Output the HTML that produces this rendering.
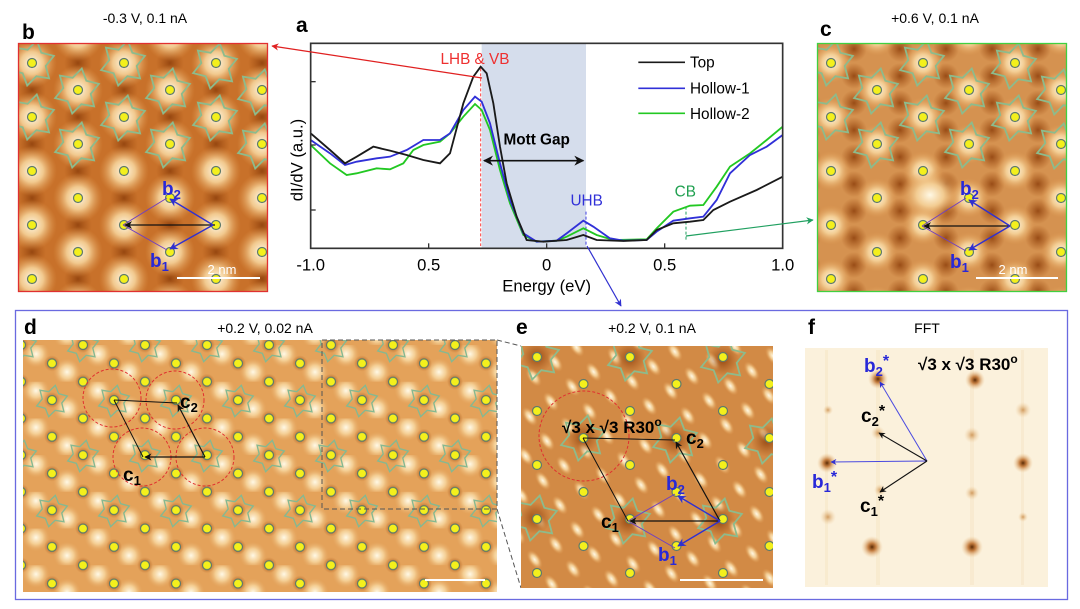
<!DOCTYPE html>
<html><head><meta charset="utf-8"><style>
html,body{margin:0;padding:0;background:#fff;}
svg{display:block;font-family:"Liberation Sans",Arial,sans-serif;}
</style></head><body>
<svg width="1080" height="609" viewBox="0 0 1080 609" xmlns="http://www.w3.org/2000/svg">
<defs>
<radialGradient id="lb"><stop offset="0" stop-color="#fff9e6"/><stop offset="0.45" stop-color="#f6d39a" stop-opacity="0.9"/><stop offset="1" stop-color="#e09a50" stop-opacity="0"/></radialGradient>
<radialGradient id="dk"><stop offset="0" stop-color="#8e400c" stop-opacity="0.85"/><stop offset="1" stop-color="#a04d12" stop-opacity="0"/></radialGradient>
<radialGradient id="fs"><stop offset="0" stop-color="#5a2a05"/><stop offset="0.35" stop-color="#b7621c" stop-opacity="0.8"/><stop offset="1" stop-color="#f0c890" stop-opacity="0"/></radialGradient>
<radialGradient id="fs2"><stop offset="0" stop-color="#c07a30" stop-opacity="0.7"/><stop offset="1" stop-color="#f0c890" stop-opacity="0"/></radialGradient>
<symbol id="dot" overflow="visible"><circle r="4.5" fill="#f4f01c" stroke="#5f7a6a" stroke-width="1.2"/></symbol>
<symbol id="starL" overflow="visible"><polygon transform="rotate(12)" fill="none" stroke="#8dbb8c" stroke-width="1.8" points="0,-23 7,-12 19.9,-11.5 14,0 19.9,11.5 7,12 0,23 -7,12 -19.9,11.5 -14,0 -19.9,-11.5 -7,-12"/></symbol>
<symbol id="starS" overflow="visible"><polygon transform="rotate(12)" fill="none" stroke="#86b890" stroke-width="1.4" points="0,-16 5,-8.5 13.9,-8 10,0 13.9,8 5,8.5 0,16 -5,8.5 -13.9,8 -10,0 -13.9,-8 -5,-8.5"/></symbol>
<pattern id="pb" patternUnits="userSpaceOnUse" x="32" y="63" width="92" height="54">
<rect width="92" height="54" fill="#c8712a"/>
<circle cx="46" cy="0" r="14" fill="url(#dk)"/><circle cx="0" cy="27" r="14" fill="url(#dk)"/><circle cx="92" cy="27" r="14" fill="url(#dk)"/><circle cx="46" cy="54" r="14" fill="url(#dk)"/>
<circle cx="0" cy="0" r="25" fill="url(#lb)"/><circle cx="92" cy="0" r="25" fill="url(#lb)"/><circle cx="0" cy="54" r="25" fill="url(#lb)"/><circle cx="92" cy="54" r="25" fill="url(#lb)"/><circle cx="46" cy="27" r="25" fill="url(#lb)"/>
</pattern>
<pattern id="pc" patternUnits="userSpaceOnUse" x="831" y="63" width="92" height="54">
<rect width="92" height="54" fill="#d59250"/>
<circle cx="23" cy="13" r="13" fill="url(#dk)"/><circle cx="69" cy="13" r="13" fill="url(#dk)"/><circle cx="23" cy="40" r="13" fill="url(#dk)"/><circle cx="69" cy="40" r="13" fill="url(#dk)"/>
<circle cx="0" cy="0" r="20" fill="url(#lb)"/><circle cx="92" cy="0" r="20" fill="url(#lb)"/><circle cx="0" cy="54" r="20" fill="url(#lb)"/><circle cx="92" cy="54" r="20" fill="url(#lb)"/><circle cx="46" cy="27" r="20" fill="url(#lb)"/>
</pattern>
<pattern id="pdots" patternUnits="userSpaceOnUse" x="32" y="63" width="92" height="54">
<use href="#dot" x="0" y="0"/><use href="#dot" x="92" y="0"/><use href="#dot" x="0" y="54"/><use href="#dot" x="92" y="54"/><use href="#dot" x="46" y="27"/>
</pattern>
<pattern id="pcdots" patternUnits="userSpaceOnUse" x="831" y="63" width="92" height="54">
<use href="#dot" x="0" y="0"/><use href="#dot" x="92" y="0"/><use href="#dot" x="0" y="54"/><use href="#dot" x="92" y="54"/><use href="#dot" x="46" y="27"/>
</pattern>
<pattern id="pd" patternUnits="userSpaceOnUse" x="83" y="345" width="62" height="36.7">
<rect width="62" height="36.7" fill="#e4a25a"/>
<circle cx="15" cy="9" r="15" fill="url(#lb)"/><circle cx="46" cy="27" r="15" fill="url(#lb)"/>
<circle cx="0" cy="0" r="8" fill="url(#dk)"/><circle cx="62" cy="0" r="8" fill="url(#dk)"/><circle cx="0" cy="36.7" r="8" fill="url(#dk)"/><circle cx="62" cy="36.7" r="8" fill="url(#dk)"/><circle cx="31" cy="18.35" r="8" fill="url(#dk)"/>
</pattern>
<pattern id="pddots" patternUnits="userSpaceOnUse" x="83" y="345" width="62" height="36.7">
<use href="#dot" x="0" y="0"/><use href="#dot" x="62" y="0"/><use href="#dot" x="0" y="36.7"/><use href="#dot" x="62" y="36.7"/><use href="#dot" x="31" y="18.35"/>
</pattern>
<pattern id="pdstars" patternUnits="userSpaceOnUse" x="83" y="346" width="62" height="110">
<use href="#starS" x="0" y="0"/><use href="#starS" x="62" y="0"/><use href="#starS" x="0" y="110"/><use href="#starS" x="62" y="110"/><use href="#starS" x="31" y="55"/>
</pattern>
<pattern id="pe" patternUnits="userSpaceOnUse" width="26" height="30" patternTransform="rotate(-35)">
<rect width="26" height="30" fill="#d28a45"/>
<ellipse cx="13" cy="15" rx="6" ry="11" fill="url(#lb)"/>
</pattern>
<pattern id="pedots" patternUnits="userSpaceOnUse" x="537" y="357" width="93" height="54">
<use href="#dot" x="0" y="0"/><use href="#dot" x="93" y="0"/><use href="#dot" x="0" y="54"/><use href="#dot" x="93" y="54"/><use href="#dot" x="46.5" y="27"/>
</pattern>
<clipPath id="cb"><rect x="18" y="43" width="250" height="249"/></clipPath>
<clipPath id="cc"><rect x="817" y="43" width="250" height="249"/></clipPath>
<clipPath id="cd"><rect x="23" y="340" width="474" height="252"/></clipPath>
<clipPath id="ce"><rect x="521" y="346" width="252" height="242"/></clipPath>
<marker id="ak" viewBox="0 0 10 10" refX="9" refY="5" markerWidth="6" markerHeight="6" orient="auto-start-reverse"><path d="M0,0 L10,5 L0,10 L3,5z" fill="#111"/></marker>
<marker id="ab" viewBox="0 0 10 10" refX="9" refY="5" markerWidth="6" markerHeight="6" orient="auto-start-reverse"><path d="M0,0 L10,5 L0,10 L3,5z" fill="#3030d0"/></marker>
<marker id="ar" viewBox="0 0 10 10" refX="9" refY="5" markerWidth="6" markerHeight="6" orient="auto"><path d="M0,0 L10,5 L0,10 L3,5z" fill="#e02020"/></marker>
<marker id="ag" viewBox="0 0 10 10" refX="9" refY="5" markerWidth="6" markerHeight="6" orient="auto"><path d="M0,0 L10,5 L0,10 L3,5z" fill="#20a060"/></marker>
</defs>

<text x="22" y="39" font-size="21" font-weight="bold">b</text>
<text x="145" y="23" font-size="14" text-anchor="middle">-0.3 V, 0.1 nA</text>
<g clip-path="url(#cb)">
<rect x="18" y="43" width="250" height="249" fill="url(#pb)"/>
<g>
<use href="#starL" x="32" y="63"/><use href="#starL" x="123" y="63"/><use href="#starL" x="215" y="66"/>
<use href="#starL" x="77" y="91"/><use href="#starL" x="168" y="91"/><use href="#starL" x="260" y="92"/>
<use href="#starL" x="32" y="117"/><use href="#starL" x="123" y="118"/><use href="#starL" x="215" y="118"/>
<use href="#starL" x="77" y="145"/><use href="#starL" x="168" y="145"/><use href="#starL" x="260" y="146"/>
</g>
<rect x="18" y="43" width="250" height="249" fill="url(#pdots)"/>
</g>
<rect x="18.5" y="43.5" width="249" height="248" fill="none" stroke="#e03030" stroke-width="1.3"/>
<line x1="215" y1="225" x2="125" y2="225" stroke="#111" stroke-width="1.3" marker-end="url(#ak)"/>
<line x1="123" y1="225" x2="167" y2="198" stroke="#7040c0" stroke-width="1"/>
<line x1="123" y1="225" x2="167" y2="250" stroke="#7040c0" stroke-width="1"/>
<line x1="213" y1="225" x2="170" y2="199" stroke="#3030d0" stroke-width="1.4" marker-end="url(#ab)"/>
<line x1="213" y1="225" x2="170" y2="249" stroke="#3030d0" stroke-width="1.4" marker-end="url(#ab)"/>
<text x="162" y="195" font-size="19" font-weight="bold" fill="#2828d8">b<tspan font-size="13" dy="4">2</tspan></text>
<text x="150" y="267" font-size="19" font-weight="bold" fill="#2828d8">b<tspan font-size="13" dy="4">1</tspan></text>
<line x1="177" y1="278" x2="260" y2="278" stroke="#fff" stroke-width="2"/>
<text x="222" y="274" font-size="13" fill="#fff" text-anchor="middle">2 nm</text>

<text x="820" y="36" font-size="21" font-weight="bold">c</text>
<text x="935" y="23" font-size="14" text-anchor="middle">+0.6 V, 0.1 nA</text>
<g clip-path="url(#cc)">
<rect x="817" y="43" width="250" height="249" fill="url(#pc)"/>
<ellipse cx="930" cy="195" rx="30" ry="25" fill="url(#lb)"/>
<g>
<use href="#starL" x="831" y="63"/><use href="#starL" x="922" y="63"/><use href="#starL" x="1014" y="66"/>
<use href="#starL" x="876" y="91"/><use href="#starL" x="967" y="91"/><use href="#starL" x="1059" y="92"/>
<use href="#starL" x="831" y="117"/><use href="#starL" x="922" y="118"/><use href="#starL" x="1014" y="118"/>
<use href="#starL" x="876" y="145"/><use href="#starL" x="967" y="145"/><use href="#starL" x="1059" y="146"/>
</g>
<rect x="817" y="43" width="250" height="249" fill="url(#pcdots)"/>
</g>
<rect x="817.5" y="43.5" width="249" height="248" fill="none" stroke="#40d040" stroke-width="1.3"/>
<line x1="1010" y1="226" x2="924" y2="226" stroke="#111" stroke-width="1.3" marker-end="url(#ak)"/>
<line x1="922" y1="226" x2="966" y2="198" stroke="#7040c0" stroke-width="1"/>
<line x1="922" y1="226" x2="966" y2="251" stroke="#7040c0" stroke-width="1"/>
<line x1="1010" y1="226" x2="969" y2="200" stroke="#3030d0" stroke-width="1.4" marker-end="url(#ab)"/>
<line x1="1010" y1="226" x2="969" y2="250" stroke="#3030d0" stroke-width="1.4" marker-end="url(#ab)"/>
<text x="960" y="195" font-size="19" font-weight="bold" fill="#2828d8">b<tspan font-size="13" dy="4">2</tspan></text>
<text x="950" y="268" font-size="19" font-weight="bold" fill="#2828d8">b<tspan font-size="13" dy="4">1</tspan></text>
<line x1="976" y1="278" x2="1058" y2="278" stroke="#fff" stroke-width="2"/>
<text x="1013" y="274" font-size="13" fill="#fff" text-anchor="middle">2 nm</text>

<text x="296" y="32" font-size="21" font-weight="bold">a</text>
<g transform="translate(290,30) scale(0.33333)">
<rect x="575" y="40" width="313" height="615" fill="#d5ddec"/>
<line x1="572" y1="115" x2="572" y2="648" stroke="#ff4040" stroke-width="3" stroke-dasharray="9,6"/>
<line x1="888" y1="545" x2="888" y2="645" stroke="#4040e0" stroke-width="3" stroke-dasharray="9,6"/>
<line x1="1188" y1="530" x2="1188" y2="632" stroke="#20a060" stroke-width="3" stroke-dasharray="9,6"/>
<polyline fill="none" stroke="#22c822" stroke-width="5.5" points="62,345 120,400 170,435 200,430 260,415 300,418 340,400 370,360 400,345 450,335 480,310 520,260 555,222 575,240 600,300 630,420 660,520 700,615 740,635 800,632 830,620 880,595 920,615 970,630 1070,628 1100,595 1150,545 1200,527 1240,525 1280,470 1320,410 1380,370 1430,330 1478,290"/>
<polyline fill="none" stroke="#3030d8" stroke-width="5.5" points="62,330 120,370 165,405 200,395 260,385 300,380 350,360 400,330 450,330 480,310 520,240 555,200 575,215 600,280 630,400 660,510 700,610 740,635 800,632 830,610 880,572 910,590 960,625 1000,632 1070,630 1100,605 1150,572 1200,565 1240,560 1280,510 1320,430 1380,375 1430,350 1478,315"/>
<polyline fill="none" stroke="#1a1a1a" stroke-width="5.5" points="62,310 120,360 165,400 200,380 250,350 300,362 350,375 400,390 450,400 480,370 520,220 550,140 572,110 590,130 610,220 630,350 650,460 680,560 710,630 760,635 830,630 880,615 920,630 1000,633 1070,630 1100,600 1150,580 1200,575 1240,570 1270,540 1320,515 1400,480 1478,440"/>
<rect x="62" y="40" width="1416" height="615" fill="none" stroke="#333" stroke-width="5"/>
<g stroke="#333" stroke-width="4"><line x1="416" y1="655" x2="416" y2="640"/><line x1="770" y1="655" x2="770" y2="640"/><line x1="1124" y1="655" x2="1124" y2="640"/><line x1="62" y1="155" x2="77" y2="155"/><line x1="62" y1="345" x2="77" y2="345"/><line x1="62" y1="540" x2="77" y2="540"/></g>
<line x1="582" y1="392" x2="880" y2="392" stroke="#111" stroke-width="5" marker-start="url(#ak)" marker-end="url(#ak)"/>
<text x="555" y="102" font-size="46" fill="#ee3030" text-anchor="middle">LHB &amp; VB</text>
<text x="740" y="343" font-size="46" font-weight="bold" text-anchor="middle">Mott Gap</text>
<text x="890" y="527" font-size="46" fill="#3030d8" text-anchor="middle">UHB</text>
<text x="1186" y="500" font-size="46" fill="#20a050" text-anchor="middle">CB</text>
<line x1="1045" y1="97" x2="1185" y2="97" stroke="#1a1a1a" stroke-width="5"/>
<line x1="1045" y1="175" x2="1185" y2="175" stroke="#3030d8" stroke-width="5"/>
<line x1="1045" y1="250" x2="1185" y2="250" stroke="#22c822" stroke-width="5"/>
<text x="1200" y="113" font-size="46">Top</text>
<text x="1200" y="191" font-size="46">Hollow-1</text>
<text x="1200" y="267" font-size="46">Hollow-2</text>
<g font-size="50" text-anchor="middle"><text x="62" y="722">-1.0</text><text x="416" y="722">0.5</text><text x="770" y="722">0</text><text x="1124" y="722">0.5</text><text x="1478" y="722">1.0</text></g>
<text x="770" y="785" font-size="50" text-anchor="middle">Energy (eV)</text>
<text transform="translate(38,390) rotate(-90)" font-size="50" text-anchor="middle">dI/dV (a.u.)</text>
</g>
<line x1="482" y1="78" x2="272" y2="46" stroke="#e02020" stroke-width="1.2" marker-end="url(#ar)"/>
<line x1="686" y1="236" x2="813" y2="220" stroke="#20a060" stroke-width="1.2" marker-end="url(#ag)"/>
<line x1="587" y1="246" x2="621" y2="306" stroke="#3030d0" stroke-width="1.2" marker-end="url(#ab)"/>

<rect x="15.5" y="310.5" width="1052" height="289" fill="none" stroke="#6a6ae0" stroke-width="1.3"/>

<text x="24" y="334" font-size="21" font-weight="bold">d</text>
<text x="265" y="333" font-size="14" text-anchor="middle">+0.2 V, 0.02 nA</text>
<g clip-path="url(#cd)">
<rect x="23" y="340" width="474" height="252" fill="url(#pd)"/>
<rect x="23" y="330" width="474" height="210" fill="url(#pdstars)"/>
<rect x="23" y="340" width="474" height="252" fill="url(#pddots)"/>
</g>
<g fill="none" stroke="#e03030" stroke-width="1" stroke-dasharray="3,2"><circle cx="112" cy="398" r="29"/><circle cx="175" cy="400" r="29"/><circle cx="142" cy="457" r="29"/><circle cx="205" cy="457" r="29"/></g>
<line x1="114" y1="400" x2="177" y2="403" stroke="#111" stroke-width="1"/>
<line x1="114" y1="400" x2="143" y2="457" stroke="#111" stroke-width="1"/>
<line x1="205" y1="457" x2="145" y2="457" stroke="#111" stroke-width="1.2" marker-end="url(#ak)"/>
<line x1="205" y1="457" x2="178" y2="405" stroke="#111" stroke-width="1.2" marker-end="url(#ak)"/>
<text x="180" y="408" font-size="19" font-weight="bold">c<tspan font-size="13" dy="4">2</tspan></text>
<text x="123" y="481" font-size="19" font-weight="bold">c<tspan font-size="13" dy="4">1</tspan></text>
<rect x="322" y="340" width="175" height="169" fill="none" stroke="#555" stroke-width="1" stroke-dasharray="5,3"/>
<line x1="425" y1="580" x2="485" y2="580" stroke="#fff" stroke-width="2"/>
<line x1="497" y1="340" x2="521" y2="346" stroke="#555" stroke-width="1" stroke-dasharray="5,3"/>
<line x1="497" y1="509" x2="521" y2="588" stroke="#555" stroke-width="1" stroke-dasharray="5,3"/>

<text x="516" y="334" font-size="21" font-weight="bold">e</text>
<text x="652" y="333" font-size="14" text-anchor="middle">+0.2 V, 0.1 nA</text>
<g clip-path="url(#ce)">
<rect x="521" y="346" width="252" height="242" fill="url(#pe)"/>
<g fill="url(#dk)"><circle cx="537" cy="357" r="16"/><circle cx="630" cy="358" r="16"/><circle cx="723" cy="360" r="16"/><circle cx="583" cy="438" r="16"/><circle cx="675" cy="440" r="16"/><circle cx="767" cy="441" r="16"/><circle cx="535" cy="518" r="16"/><circle cx="628" cy="521" r="16"/><circle cx="720" cy="521" r="16"/></g>
<g><use href="#starL" x="537" y="357"/><use href="#starL" x="630" y="358"/><use href="#starL" x="723" y="360"/><use href="#starL" x="583" y="438"/><use href="#starL" x="675" y="440"/><use href="#starL" x="767" y="441"/><use href="#starL" x="535" y="518"/><use href="#starL" x="628" y="521"/><use href="#starL" x="720" y="521"/></g>
<rect x="521" y="346" width="252" height="242" fill="url(#pedots)"/>
</g>
<circle cx="584" cy="436" r="45" fill="none" stroke="#e03030" stroke-width="1" stroke-dasharray="3,2"/>
<line x1="583" y1="438" x2="675" y2="440" stroke="#111" stroke-width="1"/>
<line x1="583" y1="438" x2="628" y2="521" stroke="#111" stroke-width="1"/>
<line x1="720" y1="521" x2="630" y2="521" stroke="#111" stroke-width="1.2" marker-end="url(#ak)"/>
<line x1="720" y1="521" x2="676" y2="442" stroke="#111" stroke-width="1.2" marker-end="url(#ak)"/>
<line x1="628" y1="521" x2="675" y2="494" stroke="#7040c0" stroke-width="1"/>
<line x1="628" y1="521" x2="675" y2="548" stroke="#7040c0" stroke-width="1"/>
<line x1="720" y1="521" x2="678" y2="496" stroke="#3030d0" stroke-width="1.4" marker-end="url(#ab)"/>
<line x1="720" y1="521" x2="678" y2="546" stroke="#3030d0" stroke-width="1.4" marker-end="url(#ab)"/>
<text x="562" y="433" font-size="17" font-weight="bold">√3 x √3 R30<tspan font-size="12" dy="-7">o</tspan></text>
<text x="686" y="444" font-size="19" font-weight="bold">c<tspan font-size="13" dy="4">2</tspan></text>
<text x="601" y="528" font-size="19" font-weight="bold">c<tspan font-size="13" dy="4">1</tspan></text>
<text x="666" y="490" font-size="19" font-weight="bold" fill="#2828d8">b<tspan font-size="13" dy="4">2</tspan></text>
<text x="658" y="561" font-size="19" font-weight="bold" fill="#2828d8">b<tspan font-size="13" dy="4">1</tspan></text>
<line x1="680" y1="580" x2="763" y2="580" stroke="#fff" stroke-width="2"/>

<text x="808" y="334" font-size="21" font-weight="bold">f</text>
<text x="927" y="333" font-size="14" text-anchor="middle">FFT</text>
<rect x="805" y="348" width="243" height="239" fill="#fbf1dc"/>
<g opacity="0.2" fill="#f0d4a0"><rect x="876" y="350" width="4" height="235"/><rect x="970" y="350" width="4" height="235"/><rect x="825" y="350" width="3" height="235"/><rect x="1021" y="350" width="3" height="235"/></g>
<g fill="url(#fs)"><circle cx="878" cy="379" r="10"/><circle cx="975" cy="380" r="10"/><circle cx="827" cy="463" r="10"/><circle cx="1023" cy="463" r="10"/><circle cx="872" cy="547" r="11"/><circle cx="972" cy="547" r="11"/></g>
<g fill="url(#fs2)"><circle cx="878" cy="433" r="7"/><circle cx="972" cy="435" r="8"/><circle cx="972" cy="493" r="7"/><circle cx="828" cy="517" r="8"/><circle cx="1023" cy="410" r="8"/><circle cx="880" cy="490" r="6"/><circle cx="828" cy="410" r="5"/><circle cx="1023" cy="517" r="5"/></g>
<line x1="927" y1="461" x2="880" y2="382" stroke="#4a4ae0" stroke-width="1" marker-end="url(#ab)"/>
<line x1="927" y1="461" x2="831" y2="462" stroke="#4a4ae0" stroke-width="1" marker-end="url(#ab)"/>
<line x1="927" y1="461" x2="879" y2="433" stroke="#111" stroke-width="1.1" marker-end="url(#ak)"/>
<line x1="927" y1="461" x2="880" y2="492" stroke="#111" stroke-width="1.1" marker-end="url(#ak)"/>
<text x="864" y="372" font-size="19" font-weight="bold" fill="#2828d8">b<tspan font-size="13" dy="4">2</tspan><tspan dy="-10" font-size="16">*</tspan></text>
<text x="918" y="370" font-size="17" font-weight="bold">√3 x √3 R30<tspan font-size="12" dy="-7">o</tspan></text>
<text x="861" y="422" font-size="19" font-weight="bold">c<tspan font-size="13" dy="4">2</tspan><tspan dy="-10" font-size="16">*</tspan></text>
<text x="812" y="488" font-size="19" font-weight="bold" fill="#2828d8">b<tspan font-size="13" dy="4">1</tspan><tspan dy="-10" font-size="16">*</tspan></text>
<text x="860" y="512" font-size="19" font-weight="bold">c<tspan font-size="13" dy="4">1</tspan><tspan dy="-10" font-size="16">*</tspan></text>
</svg>
</body></html>
